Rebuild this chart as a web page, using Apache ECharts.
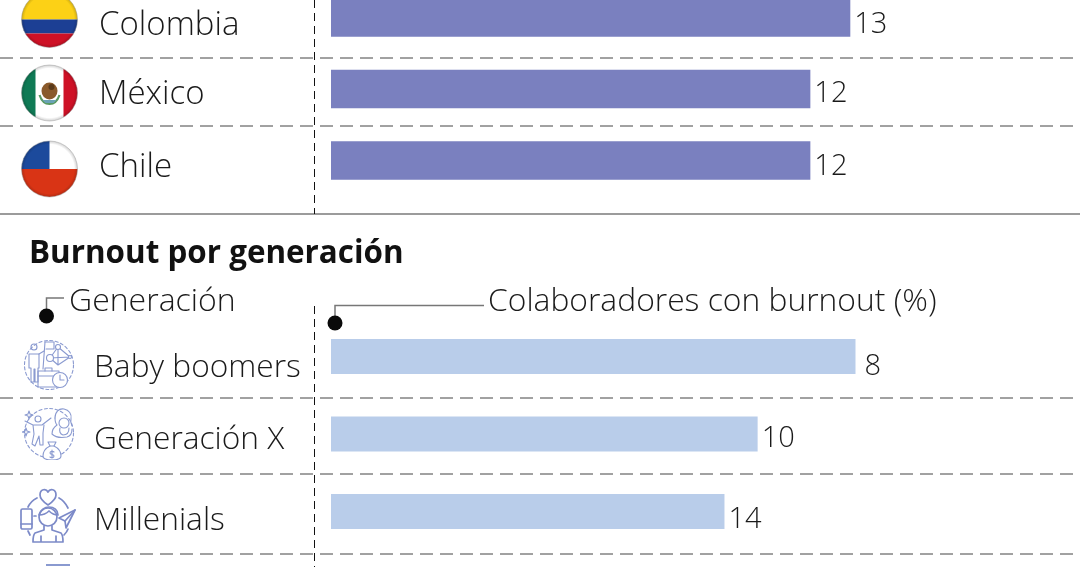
<!DOCTYPE html>
<html><head><meta charset="utf-8">
<style>html,body{margin:0;padding:0;background:#fff}#c{width:1080px;height:567px}</style>
<script src="https://cdn.jsdelivr.net/npm/echarts@6/dist/echarts.min.js"></script>
</head><body><div id="c"></div>
<script>
// Upper panel (cropped): burnout by country
const countries = ['Colombia', 'México', 'Chile'];
const countryValues = [13, 12, 12];
// Lower panel: burnout by generation.
// In the source graphic the bar lengths do not follow the printed figures, so both are kept as read.
const generations = ['Baby boomers', 'Generación X', 'Millenials'];
const generationBarLengths = [13.13, 10.68, 9.85];
const generationPrinted = [8, 10, 14];

const title2 = 'Burnout por generación';
const headerLeft = 'Generación';
const headerRight = 'Colaboradores con burnout (%)';

const FONT = '"Open Sans","Noto Sans",sans-serif';
const TXT = '#1a1a1a';
const chart = echarts.init(document.getElementById('c'), null, {renderer: 'canvas'});

const img = (svg, x, y, w, h) => ({
  type: 'image', z: 5,
  style: {image: 'data:image/svg+xml;charset=utf-8,' + encodeURIComponent(
    `<svg xmlns="http://www.w3.org/2000/svg" width="${w}" height="${h}" viewBox="0 0 ${w} ${h}">${svg}</svg>`), x, y, width: w, height: h}
});
const flag = (inner, id) => `<defs><clipPath id="${id}"><circle cx="29" cy="29" r="28"/></clipPath>
<radialGradient id="g${id}" cx="50%" cy="50%" r="50%"><stop offset="88%" stop-color="#000" stop-opacity="0"/><stop offset="100%" stop-color="#000" stop-opacity=".18"/></radialGradient></defs>
<g clip-path="url(#${id})">${inner}</g><circle cx="29" cy="29" r="28" fill="url(#g${id})"/><circle cx="29" cy="29" r="28" fill="none" stroke="#9a9a9a" stroke-opacity=".6" stroke-width=".8"/>`;

const colombia = flag('<rect width="58" height="29" fill="#fcd116"/><rect y="29" width="58" height="14" fill="#1c3f94"/><rect y="43" width="58" height="15" fill="#ce1126"/>', 'co');
const mexico = flag(`<rect width="58" height="58" fill="#fff"/><rect width="15" height="58" fill="#0f7a55"/><rect x="43" width="15" height="58" fill="#ce1126"/>
<path d="M19 31c2 6 6 9 10 9s8-3 10-9" fill="none" stroke="#5b9a62" stroke-width="2.2"/><ellipse cx="29" cy="27" rx="8" ry="8.5" fill="#8a5a2b"/><path d="M22 36h14l-3 3h-8z" fill="#6aa3b5"/><circle cx="31" cy="23" r="3" fill="#5a3a1a"/>`, 'mx');
const chile = flag('<rect width="58" height="29" fill="#fff"/><rect width="29" height="29" fill="#1c4a9c"/><rect y="29" width="58" height="29" fill="#d93415"/>', 'cl');

const st = 'fill="none" stroke="#8a9ad0" stroke-width="1.1" stroke-linecap="round" stroke-linejoin="round"';
const st2 = 'fill="none" stroke="#7c8ac8" stroke-width="1.7" stroke-linecap="round" stroke-linejoin="round"';
const babyIcon = `<g ${st}><circle cx="27" cy="27" r="24.5" stroke-dasharray="3 2.5"/>
<circle cx="12" cy="9" r="3"/><path d="M7 16h10v14h-1v14h-3V31h-1v13H9V30H7z"/><path d="M17 16l5-3"/><path d="M21 31L23 4"/><path d="M23 4h9v7h-8"/>
<path d="M36 9l12 10-12 8-8-7zM36 9v18M28 20l20-1"/><circle cx="36" cy="9" r="2.5" fill="#fff"/><circle cx="28" cy="20" r="3.5" fill="#fff"/><circle cx="48" cy="19" r="1.5" fill="#fff"/>
<rect x="16" y="33" width="21" height="16"/><path d="M23 33v-3h7v3M16 38h21"/><circle cx="38" cy="42" r="7.5" fill="#fff"/><path d="M38 37v5h4"/></g>`;
const genxIcon = `<g ${st}><circle cx="27" cy="27" r="24.5" stroke-dasharray="3 2.5"/>
<circle cx="16" cy="13" r="3"/><path d="M3 15l8 4h9l9-7M11 19l1 9-2 10 3 2 4-10 1 9h3V27l1-8"/><path d="M7 5l1 3 3 1-3 1-1 3-1-3-3-1 3-1zM4 22l1 3 3 1-3 1-1 3-1-3-3-1 3-1z"/>
<path d="M33 12c0-6 4-10 9-9s8 5 7 10c-1 3 0 5 1 7"/><path d="M33 12c0 3 0 5 2 7-3 2-5 5-5 9 3 3 9 4 15 3 4-1 5-4 5-8"/>
<circle cx="42" cy="17" r="5" fill="#fff"/><path d="M38 22c-1 3 0 6 3 7 4 0 6-3 6-7"/>
<path d="M26 36h8l-2 4c4 2 7 6 7 10 0 3-4 4-9 4s-9-1-9-4c0-4 3-8 7-10z" fill="#fff"/><path d="M28 40h4M32 46c-1-1-4-1-4 1s4 1 4 3-3 2-4 1M30 44v8"/></g>`;
const milIcon = `<g ${st2}><path d="M29 17c-3-2-8-6-8-10 0-6 6-7 8-3 2-4 8-3 8 3 0 4-5 8-8 10z"/>
<path d="M18 10c-4 2-7 5-9 9M40 10c4 2 7 6 9 10M9 43l2 4M49 41c-1 3-2 4-4 6"/>
<rect x="2" y="21" width="11" height="20" rx="1.5"/><path d="M2 36h11M15 28h2"/>
<path d="M56 22L40 30l6 3 1 7z"/><path d="M46 33l10-11"/>
<circle cx="29" cy="29" r="9"/><path d="M20 27c1-5 6-8 10-8 5 0 9 3 9 8-4 0-7-2-9-4-2 2-6 4-10 4z"/>
<path d="M25 38v4l-9 3c-2 2-2 5-2 9h30c0-4 0-7-2-9l-9-3v-4M22 54v-6M37 54v-6"/></g>`;
const bottomIcon = `<path d="M1 1h24" stroke="#8a9ad0" stroke-width="2" fill="none"/>`;

const hline = y => ({type: 'line', z: 1, shape: {x1: 0, y1: y, x2: 1080, y2: y}, style: {stroke: '#444', lineWidth: 1, lineDash: [13, 7]}});
const vline = (y1, y2) => ({type: 'line', z: 1, shape: {x1: 314.5, y1, x2: 314.5, y2}, style: {stroke: '#111', lineWidth: 1, lineDash: [8, 5]}});
const text = (s, x, y, size, weight = 300) => ({type: 'text', z: 6, style: {text: s, x, y, fill: weight > 500 ? '#111' : TXT, font: `${weight} ${size}px ${FONT}`, verticalAlign: 'middle'}});
const dot = (cx, cy) => ({type: 'circle', z: 6, shape: {cx, cy, r: 7.5}, style: {fill: '#0a0a0a'}});
const leader = pts => ({type: 'polyline', z: 5, shape: {points: pts}, style: {fill: null, stroke: '#777', lineWidth: 1.5}});

// Row text sits a little below the bar centre in the source; these are the per-row shifts, in px.
const shiftTop = [7, 5, 6.5];
const shiftBottom = [10.5, 5, 8.5];
const richFor = (shifts, size) => Object.fromEntries(shifts.map((s, i) => ['r' + i, {
  padding: [(s + 1) * 2, 0, 0, 0], fontFamily: FONT, fontWeight: 300, fontSize: size, color: TXT
}]));

const xAxisBase = {type: 'value', min: 0, max: 18.75, show: false};
const yAxisBase = (data, margin, shifts, size) => ({
  type: 'category', inverse: true, data,
  axisLine: {show: false}, axisTick: {show: false}, splitLine: {show: false},
  axisLabel: {align: 'left', margin, fontFamily: FONT, fontWeight: 300, fontSize: size, color: TXT,
    formatter: (v, i) => `{r${i}|${v}}`, rich: richFor(shifts, size)}
});
const valueLabel = {show: true, position: 'right', fontFamily: FONT, fontWeight: 300, fontSize: 29, color: TXT};

chart.setOption({
  animation: false,
  backgroundColor: '#fff',
  grid: [
    {left: 331, width: 749, top: -18.25, height: 214.5, outerBoundsMode: 'none'},
    {left: 331, width: 749, top: 317.75, height: 232.5, outerBoundsMode: 'none'}
  ],
  xAxis: [{...xAxisBase, gridIndex: 0}, {...xAxisBase, gridIndex: 1}],
  yAxis: [
    {...yAxisBase(countries, 232, shiftTop, 33), gridIndex: 0},
    {...yAxisBase(generations, 237, shiftBottom, 31.7), gridIndex: 1}
  ],
  series: [
    {type: 'bar', xAxisIndex: 0, yAxisIndex: 0, barWidth: 38.5, silent: true, clip: false,
     itemStyle: {color: '#7a80bf'},
     label: {...valueLabel, distance: 4},
     data: countryValues.map((v, i) => ({value: v, label: {offset: [0, shiftTop[i]]}}))},
    {type: 'bar', xAxisIndex: 1, yAxisIndex: 1, barWidth: 35, silent: true, clip: false,
     itemStyle: {color: '#b9cdea'},
     label: {...valueLabel, distance: 4, formatter: p => String(generationPrinted[p.dataIndex])},
     data: generationBarLengths.map((v, i) => ({value: v, label: {distance: i === 0 ? 9 : 4, offset: [0, shiftBottom[i]]}}))}
  ],
  graphic: {elements: [
    hline(58), hline(126),
    {type: 'line', z: 1, shape: {x1: 0, y1: 214, x2: 1080, y2: 214}, style: {stroke: '#7a7a7a', lineWidth: 1.6}},
    vline(0, 214), vline(306, 567),
    hline(398), hline(474), hline(554),
    img(colombia, 20.5, -9.5, 58, 58),
    img(mexico, 20.5, 64, 58, 58),
    img(chile, 20.5, 140, 58, 58),
    img(babyIcon, 22, 338, 54, 54),
    img(genxIcon, 22, 406, 54, 54),
    img(milIcon, 19, 488, 58, 58),
    img(bottomIcon, 45, 564, 28, 3),
    text(title2, 29, 254, 31.4, 700),
    text(headerLeft, 69, 302, 32),
    text(headerRight, 488, 302, 31.8),
    leader([[46.5, 310], [46.5, 298], [64, 298]]),
    dot(46.5, 316),
    leader([[335, 316], [335, 305.5], [484, 305.5]]),
    dot(335, 323)
  ]}
});
</script></body></html>
